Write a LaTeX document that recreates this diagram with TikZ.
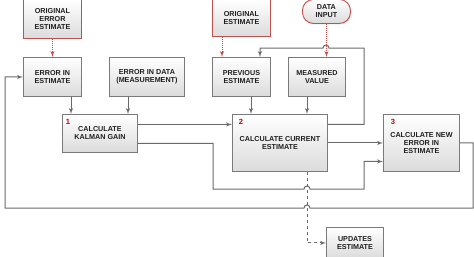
\documentclass[tikz,border=0pt]{standalone}
\usepackage{fontspec}
\setmainfont{Liberation Sans}
\usetikzlibrary{arrows, positioning, calc, shadows}

\definecolor{boxline}{HTML}{7A7A7A}
\definecolor{flowline}{HTML}{6A6A6A}
\definecolor{srcred}{HTML}{C0504D}
\definecolor{numred}{HTML}{C00000}

\begin{document}
\begin{tikzpicture}[x=1pt, y=-1pt,
    block/.style={rectangle, draw=boxline, line width=0.9pt, top color=white, bottom color=black!14, drop shadow={shadow xshift=1pt, shadow yshift=-1pt, opacity=0.25}, anchor=north west, inner sep=0pt, align=center, font=\fontsize{7.2}{8}\selectfont\bfseries, text=black!88},
    source/.style={block, draw=srcred},
    input/.style={source, rounded corners=11pt},
    num/.style={font=\fontsize{7.5}{8}\selectfont\bfseries, text=numred, inner sep=0pt},
    line/.style={draw=flowline, line width=1pt, -latex'},
    refline/.style={draw=srcred, line width=1pt, densely dotted, -latex'},
    dashline/.style={draw=flowline, line width=1pt, dashed, -latex'}]

    \useasboundingbox (0,0) rectangle (474,257);

    \node [source, minimum width=58pt, minimum height=39pt] (origerr) at (23,-1) {ORIGINAL\\ERROR\\ESTIMATE};
    \node [source, minimum width=58pt, minimum height=37pt] (origest) at (212,-1) {ORIGINAL\\ESTIMATE};
    \node [input, minimum width=48pt, minimum height=24pt] (datain) at (302,-1) {DATA\\INPUT};

    \node [block, minimum width=58pt, minimum height=39pt] (errest) at (23,57) {ERROR IN\\ESTIMATE};
    \node [block, minimum width=75pt, minimum height=39pt] (errdata) at (109,57) {ERROR IN DATA\\(MEASUREMENT)};
    \node [block, minimum width=58pt, minimum height=39pt] (prevest) at (212,57) {PREVIOUS\\ESTIMATE};
    \node [block, minimum width=57pt, minimum height=39pt] (measval) at (288,57) {MEASURED\\VALUE};

    \node [block, minimum width=75pt, minimum height=38pt] (kalman) at (62,114) {CALCULATE\\KALMAN GAIN};
    \node [block, minimum width=95pt, minimum height=57pt] (current) at (232,114) {CALCULATE CURRENT\\ESTIMATE};
    \node [block, minimum width=76pt, minimum height=57pt] (newerr) at (383,114) {CALCULATE NEW\\ERROR IN\\ESTIMATE};
    \node [block, minimum width=57pt, minimum height=31pt] (updates) at (326,227) {UPDATES\\ESTIMATE};

    \node [num] (num1) at ([xshift=6pt,yshift=-8pt]kalman.north west) {1};
    \node [num] (num2) at ([xshift=9pt,yshift=-8pt]current.north west) {2};
    \node [num] (num3) at ([xshift=10pt,yshift=-8pt]newerr.north west) {3};

    \coordinate (xa) at (71,0);
    \coordinate (xb) at (128,0);
    \coordinate (xc) at (251,0);
    \coordinate (xd) at (307,0);
    \coordinate (xe) at (222,0);
    \coordinate (xf) at (260,0);
    \coordinate (k1) at ([yshift=9pt]kalman.east);
    \coordinate (k2) at ([yshift=-10pt]kalman.east);
    \coordinate (c1) at ([yshift=18.5pt]current.east);
    \coordinate (n1) at ([yshift=-18.5pt]newerr.west);

    \path [refline] (origerr) -- (errest);
    \path [refline] (origest.south -| xe) -- (prevest.north -| xe);
    \path [refline] (datain) -- (datain |- measval.north);

    \path [line] (errest.south -| xa) -- (kalman.north -| xa);
    \path [line] (errdata.south -| xb) -- (kalman.north -| xb);
    \path [line] (prevest.south -| xc) -- (current.north -| xc);
    \path [line] (measval.south -| xd) -- (current.north -| xd);

    \path [line] (k1) -- (k1 -| current.west);
    \path [line] (current) -- (newerr);
    \path [line] (k2) -| (213,189) -- (304,189) arc[start angle=180, end angle=0, radius=3pt] -- (364,189) |- (n1);
    \path [line] (c1) -| (364,48) -- (329,48) arc[start angle=0, end angle=180, radius=3pt] -- (260,48) -- (prevest.north -| xf);
    \path [line] (newerr.east) -| (473,208) -- (310,208) arc[start angle=0, end angle=180, radius=3pt] -- (5,208) |- (errest.west);

    \path [dashline] (current.south -| xd) |- (updates.west);
\end{tikzpicture}
\end{document}
